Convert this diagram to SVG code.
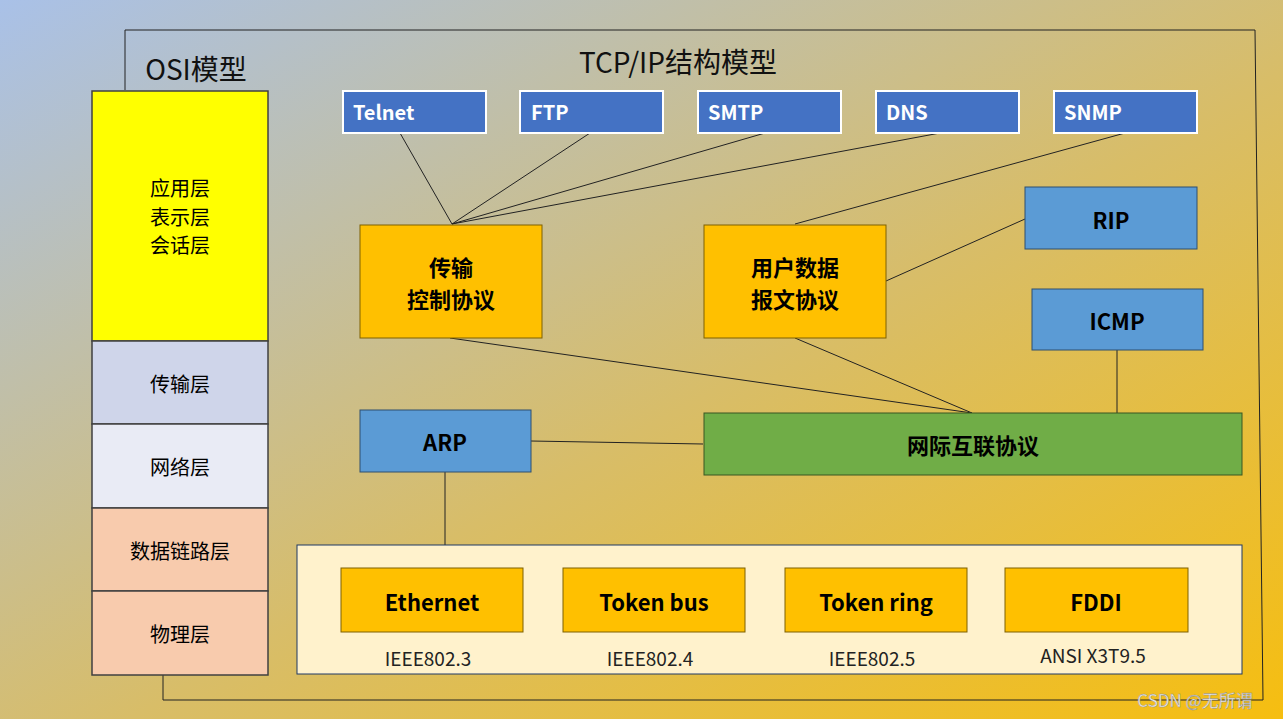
<svg xmlns="http://www.w3.org/2000/svg" width="1283" height="719" viewBox="0 0 1283 719">
<defs>
<linearGradient id="bg" x1="0" y1="0" x2="1" y2="1">
<stop offset="0" stop-color="#a9c1e8"/>
<stop offset="0.55" stop-color="#d8bd68"/>
<stop offset="1" stop-color="#f6be10"/>
</linearGradient>
<style>
text{font-family:"Noto Sans CJK SC","Noto Sans",sans-serif;text-anchor:middle;dominant-baseline:central}
.blue{fill:#4472c4;stroke:#fff;stroke-width:2}
.bt{fill:#fff;font-weight:bold;font-size:20px;text-anchor:start}
.sb{fill:#5b9bd5;stroke:#2f4f6f;stroke-width:1}
.or{fill:#ffc000;stroke:#7f6000;stroke-width:1}
.t{fill:#000;font-weight:bold;font-size:22px}
.osi{stroke:#404040;stroke-width:1.5}
.ot{font-size:20px;fill:#000}
.lab{font-size:19px;fill:#222}
.ln{stroke:#222;stroke-width:1;fill:none}
</style>
</defs>
<rect width="1283" height="719" fill="url(#bg)"/>
<path class="ln" d="M125,90 L125,30 L1255,30 L1263,700 L163,700 L163,675" stroke-width="1.5"/>
<text x="196" y="68" font-size="28" fill="#111">OSI模型</text>
<text x="678" y="61" font-size="28" fill="#111">TCP/IP结构模型</text>
<g id="osi">
<rect class="osi" x="92" y="91" width="176" height="250" fill="#ffff00"/>
<text class="ot" x="180" y="187">应用层</text><text class="ot" x="180" y="216">表示层</text><text class="ot" x="180" y="244">会话层</text>
<rect class="osi" x="92" y="341" width="176" height="83" fill="#cfd5ea"/><text class="ot" x="180" y="383">传输层</text>
<rect class="osi" x="92" y="424" width="176" height="84" fill="#e9ebf5"/><text class="ot" x="180" y="466">网络层</text>
<rect class="osi" x="92" y="508" width="176" height="83" fill="#f8cbad"/><text class="ot" x="180" y="550">数据链路层</text>
<rect class="osi" x="92" y="591" width="176" height="84" fill="#f8cbad"/><text class="ot" x="180" y="633">物理层</text>
</g>
<g id="connectors">
<path class="ln" d="M400,133 L452,224 M590,133 L452,224 M765,133 L452,224 M940,133 L452,224 M795,224 L1125,133 M886,281 L1025,219 M450,338 L972,413 M795,338 L972,413 M1117,350 L1117,413 M531,441 L703,444 M445,472 L445,546"/>
</g>
<g id="apps">
<rect class="blue" x="343" y="91" width="143" height="42"/><text class="bt" x="353" y="111">Telnet</text>
<rect class="blue" x="520" y="91" width="143" height="42"/><text class="bt" x="531" y="111">FTP</text>
<rect class="blue" x="698" y="91" width="143" height="42"/><text class="bt" x="708" y="111">SMTP</text>
<rect class="blue" x="876" y="91" width="143" height="42"/><text class="bt" x="886" y="111">DNS</text>
<rect class="blue" x="1054" y="91" width="143" height="42"/><text class="bt" x="1064" y="111">SNMP</text>
</g>
<g id="tcp"><rect class="or" x="360" y="225" width="182" height="113"/><text class="t" x="451" y="266">传输</text><text class="t" x="451" y="298">控制协议</text></g>
<g id="udp"><rect class="or" x="704" y="225" width="182" height="113"/><text class="t" x="795" y="266">用户数据</text><text class="t" x="795" y="298">报文协议</text></g>
<g id="rip"><rect class="sb" x="1025" y="187" width="172" height="62"/><text class="t" x="1111" y="219">RIP</text></g>
<g id="icmp"><rect class="sb" x="1032" y="289" width="171" height="61"/><text class="t" x="1117" y="320">ICMP</text></g>
<g id="arp"><rect class="sb" x="360" y="410" width="171" height="62"/><text class="t" x="445" y="441">ARP</text></g>
<g id="ip"><rect x="704" y="413" width="538" height="62" fill="#70ad47" stroke="#385723"/><text class="t" x="973" y="444">网际互联协议</text></g>
<g id="link">
<rect x="297" y="545" width="945" height="129" fill="#fff2cc" stroke="#1f3864"/>
<rect class="or" x="341" y="568" width="182" height="64"/><text class="t" x="432" y="601">Ethernet</text><text class="lab" x="428" y="657">IEEE802.3</text>
<rect class="or" x="563" y="568" width="182" height="64"/><text class="t" x="654" y="601">Token bus</text><text class="lab" x="650" y="657">IEEE802.4</text>
<rect class="or" x="785" y="568" width="182" height="64"/><text class="t" x="876" y="601">Token ring</text><text class="lab" x="872" y="657">IEEE802.5</text>
<rect class="or" x="1005" y="568" width="183" height="64"/><text class="t" x="1096" y="601">FDDI</text><text class="lab" x="1093" y="654">ANSI X3T9.5</text>
</g>
<text x="1195" y="699" font-size="17" fill="#eee" stroke="#888" stroke-width="0.4">CSDN @无所谓</text>
</svg>
